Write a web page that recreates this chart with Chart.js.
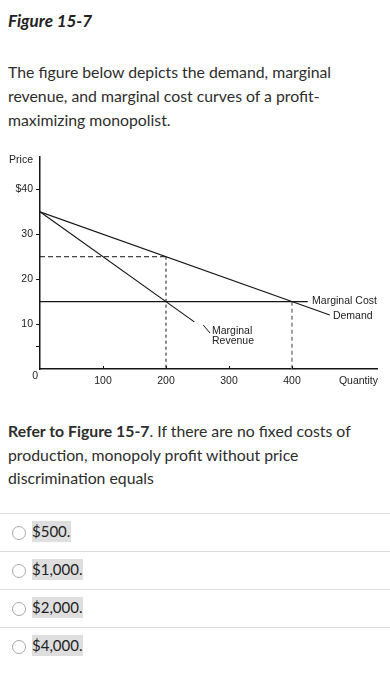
<!DOCTYPE html>
<html>
<head>
<meta charset="utf-8">
<script src="https://cdn.jsdelivr.net/npm/chart.js@4"></script>
<style>
  body { margin: 0; width: 390px; height: 684px; background: #fff; font-family: Lato, sans-serif; color: #2d2d2d; position: relative; overflow: hidden; }
  .title { position: absolute; left: 8px; top: 10px; font-size: 17px; font-weight: bold; font-style: italic; color: #222; }
  .para { position: absolute; left: 8px; font-size: 15.8px; line-height: 24px; }
  #intro { top: 60px; width: 360px; }
  #question { top: 419px; width: 370px; line-height: 23.5px; }
  #wrap { position: absolute; left: 0; top: 145px; width: 390px; height: 250px; }
  .opt { position: absolute; left: 0; width: 390px; border-top: 1px solid #dcdcdc; height: 38px; }
  .opt .radio { position: absolute; left: 12px; top: 12px; width: 12px; height: 12px; border: 1px solid #a9a9a9; border-radius: 50%; }
  .opt .txt { position: absolute; left: 32px; top: 7px; background: #dedede; font-size: 15px; line-height: 21px; color: #222; padding-right: 1px; }
</style>
</head>
<body>
<div class="title">Figure 15-7</div>
<div class="para" id="intro">The figure below depicts the demand, marginal revenue, and marginal cost curves of a profit-maximizing monopolist.</div>
<div id="wrap"><canvas id="chart" width="390" height="250"></canvas></div>
<div class="para" id="question"><b>Refer to Figure 15-7</b>. If there are no fixed costs of production, monopoly profit without price discrimination equals</div>
<div id="opts"></div>
<script>
// curves (quantity, price)
var demandQ = [0, 460];
var demandP = [35, 12];
var mrQ = [0, 245];
var mrP = [35, 10.5];
var mrLeaderQ = [259, 270];
var mrLeaderP = [9.8, 8];
var mcQ = [0, 425];
var mcP = [15, 15];
var priceDashQ = [0, 200];
var priceDashP = [25, 25];
var q200DashQ = [200, 200];
var q200DashP = [25, 0];
var q400DashQ = [400, 400];
var q400DashP = [15, 0];

var xTicks = [100, 200, 300, 400];
var yTicks = [5, 10, 20, 30, 40];
var yTickLabels = { 5: "", 10: "10", 20: "20", 30: "30", 40: "$40" };

var curveLabels = [
  { text: ["Marginal Cost"], q: 432, p: 15.2 },
  { text: ["Demand"], q: 465, p: 11.7 },
  { text: ["Marginal", "Revenue"], q: 273, p: 8.4 }
];

var options = ["$500.", "$1,000.", "$2,000.", "$4,000."];

function pts(qs, ps) {
  return qs.map(function(q, i) { return { x: q, y: ps[i] }; });
}

function line(data, color, width, dash) {
  return {
    data: data,
    borderColor: color,
    borderWidth: width,
    borderDash: dash || [],
    pointRadius: 0,
    showLine: true,
    fill: false,
    tension: 0
  };
}

var ink = "#151515";
var fontCss = "10.5px Liberation Sans, Arial, sans-serif";
var font = { family: "Liberation Sans, Arial, sans-serif", size: 10.5 };

var extras = {
  id: "extras",
  afterDraw: function(chart) {
    var c = chart.ctx, xs = chart.scales.x, ys = chart.scales.y;
    c.save();
    // small tick marks above the quantity axis
    c.strokeStyle = ink;
    c.lineWidth = 1;
    xTicks.forEach(function(t) {
      var px = Math.round(xs.getPixelForValue(t)) + 0.5;
      c.beginPath();
      c.moveTo(px, ys.getPixelForValue(0));
      c.lineTo(px, ys.getPixelForValue(0) - 3);
      c.stroke();
    });
    c.fillStyle = "#222";
    c.font = fontCss;
    c.textBaseline = "middle";
    c.textAlign = "right";
    c.fillText("Price", 33, 15);
    c.fillText("0", 38, 231);
    c.fillText("Quantity", 378, 236);
    c.textAlign = "left";
    curveLabels.forEach(function(l) {
      var px = xs.getPixelForValue(l.q), py = ys.getPixelForValue(l.p);
      l.text.forEach(function(s, i) { c.fillText(s, px, py + i * 10); });
    });
    c.restore();
  }
};

new Chart(document.getElementById("chart"), {
  type: "scatter",
  data: {
    datasets: [
      line(pts(demandQ, demandP), ink, 1.1),
      line(pts(mrQ, mrP), ink, 1.1),
      line(pts(mrLeaderQ, mrLeaderP), ink, 1),
      line(pts(mcQ, mcP), ink, 1.3),
      line(pts(priceDashQ, priceDashP), ink, 1, [5, 3]),
      line(pts(q200DashQ, q200DashP), ink, 1, [3, 3]),
      line(pts(q400DashQ, q400DashP), "#8a8a8a", 1.6, [4, 3])
    ]
  },
  options: {
    responsive: false,
    animation: false,
    layout: { padding: { top: 12, right: 13, left: 0, bottom: 0 } },
    plugins: { legend: { display: false }, tooltip: { enabled: false } },
    scales: {
      x: {
        type: "linear",
        min: 0,
        max: 535,
        afterBuildTicks: function(s) { s.ticks = xTicks.map(function(v) { return { value: v }; }); },
        afterFit: function(s) { s.height = 26; },
        ticks: { color: "#222", font: font, padding: 6, maxRotation: 0 },
        grid: { display: true, drawOnChartArea: false, drawTicks: false },
        border: { display: true, color: ink, width: 1.5 }
      },
      y: {
        type: "linear",
        min: 0,
        max: 47.2,
        afterBuildTicks: function(s) { s.ticks = yTicks.map(function(v) { return { value: v }; }); },
        afterFit: function(s) { s.width = 40; },
        ticks: {
          color: "#222",
          font: font,
          padding: 3,
          callback: function(v) { return yTickLabels[v]; }
        },
        grid: { display: true, drawOnChartArea: false, drawTicks: true, tickLength: 4, color: ink },
        border: { display: true, color: ink, width: 1.5 }
      }
    }
  },
  plugins: [extras]
});

var box = document.getElementById("opts");
options.forEach(function(o, i) {
  var d = document.createElement("div");
  d.className = "opt";
  d.style.top = (513 + i * 38) + "px";
  d.innerHTML = '<span class="radio"></span><span class="txt">' + o + '</span>';
  box.appendChild(d);
});
</script>
</body>
</html>
